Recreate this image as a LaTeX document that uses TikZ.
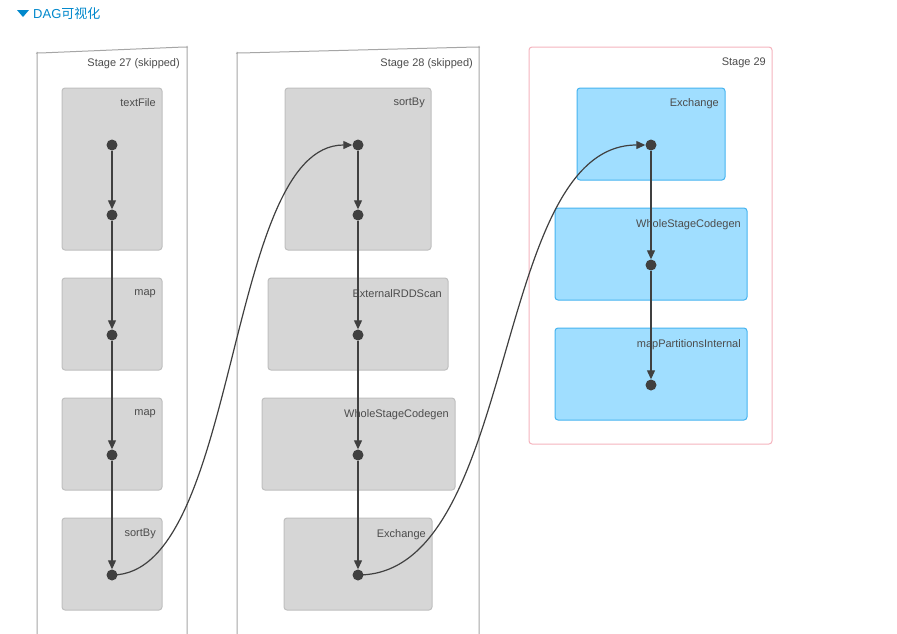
\documentclass[tikz,border=0pt]{standalone}
\usepackage{fontspec}
\setmainfont{Liberation Sans}
\newfontfamily\cjk{Noto Sans CJK SC}
\usetikzlibrary{arrows.meta}
\definecolor{titleblue}{RGB}{0,136,204}
\definecolor{pinkb}{RGB}{245,180,190}
\definecolor{blueb}{RGB}{70,180,240}
\definecolor{bluef}{RGB}{160,222,255}
\begin{document}
\begin{tikzpicture}[x=1pt,y=-1pt,
 stage/.style={draw=#1,line width=1pt,rounded corners=3pt},
 op/.style={draw=#1,line width=1pt,rounded corners=3pt},
 lbl/.style={anchor=north east,text=black!70,font=\fontsize{11}{13}\selectfont,inner sep=0pt},
 dot/.style={circle,fill=black!75,inner sep=0pt,minimum size=11pt},
 edge/.style={draw=black!75,line width=1.2pt,-{Triangle[length=9pt,width=8pt]}},
 g/.style={op=black!25,fill=black!16},
 b/.style={op=blueb,fill=bluef}]
\useasboundingbox (0,0) rectangle (897,633);
\fill[white] (0,0) rectangle (897,633);
\fill[titleblue] (17,10) -- (29,10) -- (23,17) -- cycle;
\node[anchor=west,inner sep=0pt,text=titleblue,font=\fontsize{13}{15}\selectfont] (title) at (33,14) {DAG{\cjk 可视化}};
% stages
\draw[stage=black!35] (37,640) -- (37,50) arc[start angle=180,end angle=90,radius=3] -- (184,47) arc[start angle=90,end angle=0,radius=3] -- (187,640);
\node[lbl] (s27) at (180,58) {Stage 27 (skipped)};
\draw[stage=black!35] (237,640) -- (237,50) arc[start angle=180,end angle=90,radius=3] -- (476,47) arc[start angle=90,end angle=0,radius=3] -- (479,640);
\node[lbl] (s28) at (473,58) {Stage 28 (skipped)};
\draw[stage=pinkb] (529,47) rectangle (772,444);
\node[lbl] (s29) at (766,58) {Stage 29};
% ops
\draw[g] (62,88) rectangle (162,250); \node[lbl] (a1) at (156,98) {textFile};
\draw[g] (62,278) rectangle (162,370); \node[lbl] (a2) at (156,289) {map};
\draw[g] (62,398) rectangle (162,490); \node[lbl] (a3) at (156,409) {map};
\draw[g] (62,518) rectangle (162,610); \node[lbl] (a4) at (156,529) {sortBy};
\draw[g] (285,88) rectangle (431,250); \node[lbl] (b1) at (425,98) {sortBy};
\draw[g] (268,278) rectangle (448,370); \node[lbl] (b2) at (442,289) {ExternalRDDScan};
\draw[g] (262,398) rectangle (455,490); \node[lbl] (b3) at (449,409) {WholeStageCodegen};
\draw[g] (284,518) rectangle (432,610); \node[lbl] (b4) at (426,529) {Exchange};
\draw[b] (577,88) rectangle (725,180); \node[lbl] (c1) at (719,98) {Exchange};
\draw[b] (555,208) rectangle (747,300); \node[lbl] (c2) at (741,219) {WholeStageCodegen};
\draw[b] (555,328) rectangle (747,420); \node[lbl] (c3) at (741,339) {mapPartitionsInternal};
% dots
\foreach \n/\x/\y in {p1/112/145,p2/112/215,p3/112/335,p4/112/455,p5/112/575,q1/358/145,q2/358/215,q3/358/335,q4/358/455,q5/358/575,r1/651/145,r2/651/265,r3/651/385}
  \node[dot] (\n) at (\x,\y) {};
\draw[edge] (p1) -- (p2); \draw[edge] (p2) -- (p3); \draw[edge] (p3) -- (p4); \draw[edge] (p4) -- (p5);
\draw[edge] (q1) -- (q2); \draw[edge] (q2) -- (q3); \draw[edge] (q3) -- (q4); \draw[edge] (q4) -- (q5);
\draw[edge] (r1) -- (r2); \draw[edge] (r2) -- (r3);
\draw[edge] (p5.center) .. controls (240,575) and (225,145) .. (q1);
\draw[edge] (q5.center) .. controls (520,575) and (490,145) .. (r1);
\end{tikzpicture}
\end{document}
